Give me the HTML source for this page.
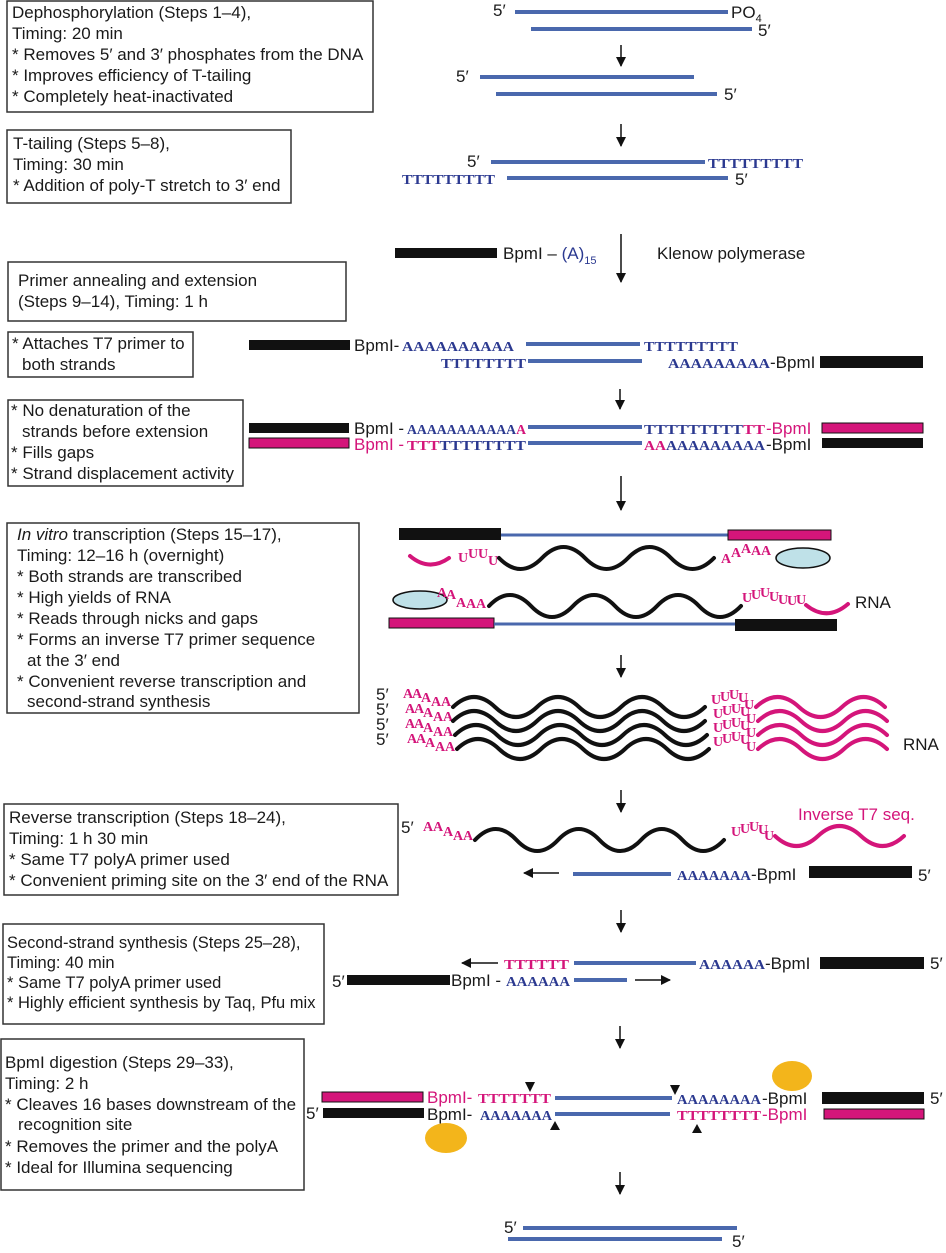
<!DOCTYPE html>
<html><head><meta charset="utf-8"><style>
html,body{margin:0;padding:0;background:#fff;}
svg{display:block;}
.t{font-family:"Liberation Sans",sans-serif;font-size:17px;fill:#1a1a1a;}
.s{font-family:"Liberation Serif",serif;font-weight:bold;font-size:14px;}
.n{fill:#2b3990;} .m{fill:#d4157a;} .k{fill:#1a1a1a;}
.box{fill:none;stroke:#333;stroke-width:1.5;}
.bl{stroke:#4a68ad;stroke-width:4;}
.w{fill:none;stroke:#111;stroke-width:4;stroke-linecap:round;}
.wm{fill:none;stroke:#d4157a;stroke-width:4;stroke-linecap:round;}
</style></head><body>
<svg width="946" height="1253" viewBox="0 0 946 1253" xmlns="http://www.w3.org/2000/svg">
<defs><marker id="ah" markerWidth="10" markerHeight="10" refX="9" refY="5" orient="auto" markerUnits="userSpaceOnUse"><path d="M0,0 L10,5 L0,10 z" fill="#111"/></marker></defs>

<!-- Boxes -->
<rect class="box" x="7" y="1" width="366" height="111"/>
<text class="t" x="12" y="18">Dephosphorylation (Steps 1–4),</text>
<text class="t" x="12" y="39">Timing: 20 min</text>
<text class="t" x="12" y="60">* Removes 5′ and 3′ phosphates from the DNA</text>
<text class="t" x="12" y="81">* Improves efficiency of T-tailing</text>
<text class="t" x="12" y="102">* Completely heat-inactivated</text>

<rect class="box" x="7" y="130" width="284" height="73"/>
<text class="t" x="13" y="149">T-tailing (Steps 5–8),</text>
<text class="t" x="13" y="170">Timing: 30 min</text>
<text class="t" x="13" y="191">* Addition of poly-T stretch to 3′ end</text>

<rect class="box" x="8" y="262" width="338" height="59"/>
<text class="t" x="18" y="286">Primer annealing and extension</text>
<text class="t" x="18" y="307">(Steps 9–14), Timing: 1 h</text>

<rect class="box" x="8" y="332" width="185" height="45"/>
<text class="t" x="12" y="349">* Attaches T7 primer to</text>
<text class="t" x="22" y="370">both strands</text>

<rect class="box" x="8" y="400" width="235" height="86"/>
<text class="t" x="11" y="416">* No denaturation of the</text>
<text class="t" x="22" y="437">strands before extension</text>
<text class="t" x="11" y="458">* Fills gaps</text>
<text class="t" x="11" y="479">* Strand displacement activity</text>

<rect class="box" x="7" y="523" width="352" height="190"/>
<text class="t" x="17" y="540"><tspan font-style="italic">In vitro</tspan> transcription (Steps 15–17),</text>
<text class="t" x="17" y="561">Timing: 12–16 h (overnight)</text>
<text class="t" x="17" y="582">* Both strands are transcribed</text>
<text class="t" x="17" y="603">* High yields of RNA</text>
<text class="t" x="17" y="624">* Reads through nicks and gaps</text>
<text class="t" x="17" y="645">* Forms an inverse T7 primer sequence</text>
<text class="t" x="27" y="666">at the 3′ end</text>
<text class="t" x="17" y="687">* Convenient reverse transcription and</text>
<text class="t" x="27" y="707">second-strand synthesis</text>

<rect class="box" x="4" y="804" width="394" height="91"/>
<text class="t" x="9" y="823">Reverse transcription (Steps 18–24),</text>
<text class="t" x="9" y="844">Timing: 1 h 30 min</text>
<text class="t" x="9" y="865">* Same T7 polyA primer used</text>
<text class="t" x="9" y="886">* Convenient priming site on the 3′ end of the RNA</text>

<rect class="box" x="3" y="924" width="321" height="100"/>
<text class="t" x="7" y="948" style="font-size:16.5px">Second-strand synthesis (Steps 25–28),</text>
<text class="t" x="7" y="968" style="font-size:16.5px">Timing: 40 min</text>
<text class="t" x="7" y="988" style="font-size:16.5px">* Same T7 polyA primer used</text>
<text class="t" x="7" y="1008" style="font-size:16.5px">* Highly efficient synthesis by Taq, Pfu mix</text>

<rect class="box" x="1" y="1039" width="303" height="151"/>
<text class="t" x="5" y="1068">BpmI digestion (Steps 29–33),</text>
<text class="t" x="5" y="1089">Timing: 2 h</text>
<text class="t" x="5" y="1110">* Cleaves 16 bases downstream of the</text>
<text class="t" x="18" y="1130">recognition site</text>
<text class="t" x="5" y="1152">* Removes the primer and the polyA</text>
<text class="t" x="5" y="1173">* Ideal for Illumina sequencing</text>

<!-- arrows -->
<g stroke="#111" stroke-width="1.5" marker-end="url(#ah)">
<line x1="621" y1="45" x2="621" y2="66"/>
<line x1="621" y1="124" x2="621" y2="146"/>
<line x1="621" y1="234" x2="621" y2="282"/>
<line x1="620" y1="389" x2="620" y2="409"/>
<line x1="621" y1="476" x2="621" y2="510"/>
<line x1="621" y1="655" x2="621" y2="677"/>
<line x1="621" y1="790" x2="621" y2="812"/>
<line x1="621" y1="910" x2="621" y2="932"/>
<line x1="620" y1="1026" x2="620" y2="1048"/>
<line x1="620" y1="1172" x2="620" y2="1194"/>
</g>

<!-- section 1 -->
<text class="t" x="493" y="16">5′</text>
<line class="bl" x1="515" y1="12" x2="728" y2="12"/>
<text class="t" x="731" y="18">PO<tspan font-size="11" dy="4">4</tspan></text>
<line class="bl" x1="531" y1="29" x2="752" y2="29"/>
<text class="t" x="758" y="36">5′</text>
<text class="t" x="456" y="82">5′</text>
<line class="bl" x1="480" y1="77" x2="694" y2="77"/>
<line class="bl" x1="496" y1="94" x2="717" y2="94"/>
<text class="t" x="724" y="100">5′</text>

<!-- section 2 -->
<text class="t" x="467" y="167">5′</text>
<line class="bl" x1="491" y1="162" x2="705" y2="162"/>
<text class="s n" x="708" y="168" textLength="95" lengthAdjust="spacingAndGlyphs">TTTTTTTTT</text>
<text class="s n" x="402" y="184" textLength="93" lengthAdjust="spacingAndGlyphs">TTTTTTTTT</text>
<line class="bl" x1="507" y1="178" x2="728" y2="178"/>
<text class="t" x="735" y="185">5′</text>

<!-- section 3 -->
<rect x="395" y="248" width="102" height="10" fill="#111"/>
<text class="t" x="503" y="259">BpmI – <tspan fill="#2b3990">(A)</tspan><tspan fill="#2b3990" font-size="11" dy="5">15</tspan></text>
<text class="t" x="657" y="259">Klenow polymerase</text>

<!-- section 4 -->
<rect x="249" y="340" width="101" height="10" fill="#111"/>
<text class="t" x="354" y="351">BpmI-</text>
<text class="s n" x="402" y="351" textLength="112" lengthAdjust="spacingAndGlyphs">AAAAAAAAAA</text>
<line class="bl" x1="526" y1="344" x2="640" y2="344"/>
<text class="s n" x="644" y="351" textLength="94" lengthAdjust="spacingAndGlyphs">TTTTTTTTT</text>
<text class="s n" x="441" y="368" textLength="85" lengthAdjust="spacingAndGlyphs">TTTTTTTT</text>
<line class="bl" x1="528" y1="361" x2="642" y2="361"/>
<text class="s n" x="668" y="368" textLength="102" lengthAdjust="spacingAndGlyphs">AAAAAAAAA</text>
<text class="t" x="770" y="368">-BpmI</text>
<rect x="820" y="356" width="103" height="12" fill="#111"/>

<!-- section 5 -->
<rect x="249" y="423" width="100" height="10" fill="#111"/>
<text class="t" x="354" y="434">BpmI -</text>
<text class="s" x="407" y="434" textLength="119" lengthAdjust="spacingAndGlyphs"><tspan class="n">AAAAAAAAAAA</tspan><tspan class="m">A</tspan></text>
<line class="bl" x1="528" y1="427" x2="642" y2="427"/>
<text class="s" x="644" y="434" textLength="121" lengthAdjust="spacingAndGlyphs"><tspan class="n">TTTTTTTTT</tspan><tspan class="m">TT</tspan></text>
<text class="t m" x="766" y="434">-BpmI</text>
<rect x="822" y="423" width="101" height="10" fill="#d4157a" stroke="#111" stroke-width="1"/>
<rect x="249" y="438" width="100" height="10" fill="#d4157a" stroke="#111" stroke-width="1"/>
<text class="t m" x="354" y="450">BpmI -</text>
<text class="s" x="407" y="450" textLength="119" lengthAdjust="spacingAndGlyphs"><tspan class="m">TTT</tspan><tspan class="n">TTTTTTTT</tspan></text>
<line class="bl" x1="528" y1="443" x2="642" y2="443"/>
<text class="s" x="644" y="450" textLength="121" lengthAdjust="spacingAndGlyphs"><tspan class="m">AA</tspan><tspan class="n">AAAAAAAAA</tspan></text>
<text class="t" x="766" y="450">-BpmI</text>
<rect x="822" y="438" width="101" height="10" fill="#111"/>

<!-- section 6 -->
<rect x="399" y="528" width="102" height="12" fill="#111"/>
<line x1="501" y1="535" x2="728" y2="535" stroke="#4a68ad" stroke-width="3"/>
<rect x="728" y="530" width="103" height="10" fill="#d4157a" stroke="#111" stroke-width="1"/>
<path class="wm" d="M410 556 Q429 572 449 558"/>
<text class="s m" x="458 468 478 488" y="562 558 558 565">UUUU</text>
<path class="w" d="M499 558 q21.5 22 43 0 t43 0 t43 0 t43 0 t43 0"/>
<text class="s m" x="721 731 741 751 761" y="563 557 553 555 555">AAAAA</text>
<ellipse cx="803" cy="558" rx="27" ry="10" fill="#bfe1e8" stroke="#111" stroke-width="1.5"/>

<ellipse cx="420" cy="600" rx="27" ry="9" fill="#bfe1e8" stroke="#111" stroke-width="1.5"/>
<text class="s m" x="437 446 456 466 476" y="597 599 607 608 608">AAAAA</text>
<path class="w" d="M489 606 q21 -22 42 0 t42 0 t42 0 t42 0 t42 0 t42 0"/>
<text class="s m" x="742 751 760 769 778 787 796" y="602 599 597 601 604 605 604">UUUUUUU</text>
<path class="wm" d="M806 605 Q827 622 848 604"/>
<text class="t" x="855" y="608">RNA</text>
<rect x="389" y="618" width="105" height="10" fill="#d4157a" stroke="#111" stroke-width="1"/>
<line x1="494" y1="624" x2="735" y2="624" stroke="#4a68ad" stroke-width="3"/>
<rect x="735" y="619" width="102" height="12" fill="#111"/>

<!-- section 7 : RNA population -->
<g>
<text class="t" x="376" y="700">5′</text>
<text class="t" x="376" y="715">5′</text>
<text class="t" x="376" y="730">5′</text>
<text class="t" x="376" y="745">5′</text>
</g>
<g class="s m">
<text x="403 412 421 431 441" y="698 698 702 706 706">AAAAA</text>
<text x="405 414 423 433 443" y="713 713 717 721 721">AAAAA</text>
<text x="405 414 423 433 443" y="728 728 732 736 736">AAAAA</text>
<text x="407 416 425 435 445" y="743 743 747 751 751">AAAAA</text>
<text x="711 720 729 738 744" y="704 701 699 702 709">UUUUU</text>
<text x="713 722 731 740 746" y="718 715 713 716 723">UUUUU</text>
<text x="713 722 731 740 746" y="732 729 727 730 737">UUUUU</text>
<text x="713 722 731 740 746" y="746 743 741 744 751">UUUUU</text>
</g>
<path class="w" d="M453 707 q21 -20 42 0 t42 0 t42 0 t42 0 t42 0 t42 0"/>
<path class="w" d="M453 721 q21 -20 42 0 t42 0 t42 0 t42 0 t42 0 t42 0"/>
<path class="w" d="M455 735 q21 -20 42 0 t42 0 t42 0 t42 0 t42 0 t42 0"/>
<path class="w" d="M457 749 q21 -20 42 0 t42 0 t42 0 t42 0 t42 0 t42 0"/>
<path class="wm" d="M756 707 q21.5 -20 43 0 t43 0 t43 0"/>
<path class="wm" d="M758 721 q21.5 -20 43 0 t43 0 t43 0"/>
<path class="wm" d="M758 735 q21.5 -20 43 0 t43 0 t43 0"/>
<path class="wm" d="M758 749 q21.5 -20 43 0 t43 0 t43 0"/>
<text class="t" x="903" y="750">RNA</text>

<!-- section 8 : reverse transcription -->
<text class="t" x="401" y="833">5′</text>
<text class="s m" x="423 433 443 453 463" y="831 831 836 840 840">AAAAA</text>
<path class="w" d="M475 840 q20.75 -22 41.5 0 t41.5 0 t41.5 0 t41.5 0 t41.5 0 t41.5 0"/>
<text class="s m" x="731 740 749 758 764" y="836 833 831 834 840">UUUUU</text>
<path class="wm" d="M775 836 q21.5 20 43 0 t43 0 t43 0"/>
<text class="t m" x="798" y="820">Inverse T7 seq.</text>
<line x1="559" y1="873" x2="524" y2="873" stroke="#111" stroke-width="1.5" marker-end="url(#ah)"/>
<line class="bl" x1="573" y1="874" x2="671" y2="874"/>
<text class="s n" x="677" y="880" textLength="74" lengthAdjust="spacingAndGlyphs">AAAAAAA</text>
<text class="t" x="751" y="880">-BpmI</text>
<rect x="809" y="866" width="103" height="12" fill="#111"/>
<text class="t" x="918" y="881">5′</text>

<!-- section 9 : second strand -->
<line x1="498" y1="963" x2="462" y2="963" stroke="#111" stroke-width="1.5" marker-end="url(#ah)"/>
<text class="s m" x="504" y="969" textLength="65" lengthAdjust="spacingAndGlyphs">TTTTTT</text>
<line class="bl" x1="574" y1="963" x2="696" y2="963"/>
<text class="s n" x="699" y="969" textLength="66" lengthAdjust="spacingAndGlyphs">AAAAAA</text>
<text class="t" x="765" y="969">-BpmI</text>
<rect x="820" y="957" width="104" height="12" fill="#111"/>
<text class="t" x="930" y="969">5′</text>
<text class="t" x="332" y="987">5′</text>
<rect x="347" y="975" width="103" height="10" fill="#111"/>
<text class="t" x="451" y="986">BpmI -</text>
<text class="s n" x="506" y="986" textLength="64" lengthAdjust="spacingAndGlyphs">AAAAAA</text>
<line class="bl" x1="574" y1="980" x2="627" y2="980"/>
<line x1="635" y1="980" x2="670" y2="980" stroke="#111" stroke-width="1.5" marker-end="url(#ah)"/>

<!-- section 10 : BpmI digestion -->
<rect x="322" y="1092" width="101" height="10" fill="#d4157a" stroke="#111" stroke-width="1"/>
<text class="t m" x="427" y="1103">BpmI-</text>
<text class="s m" x="478" y="1103" textLength="73" lengthAdjust="spacingAndGlyphs">TTTTTTT</text>
<path d="M525 1082 L535 1082 L530 1092 z" fill="#111"/>
<line class="bl" x1="555" y1="1098" x2="672" y2="1098"/>
<path d="M670 1085 L680 1085 L675 1095 z" fill="#111"/>
<text class="s n" x="677" y="1104" textLength="84" lengthAdjust="spacingAndGlyphs">AAAAAAAA</text>
<text class="t" x="762" y="1104">-BpmI</text>
<rect x="822" y="1092" width="102" height="12" fill="#111"/>
<text class="t" x="930" y="1104">5′</text>
<ellipse cx="792" cy="1076" rx="20" ry="15" fill="#f3b51b"/>

<text class="t" x="306" y="1119">5′</text>
<rect x="323" y="1108" width="101" height="10" fill="#111"/>
<text class="t" x="427" y="1120">BpmI-</text>
<text class="s n" x="480" y="1120" textLength="72" lengthAdjust="spacingAndGlyphs">AAAAAAA</text>
<line class="bl" x1="555" y1="1114" x2="670" y2="1114"/>
<path d="M550 1130 L560 1130 L555 1121 z" fill="#111"/>
<text class="s m" x="677" y="1120" textLength="84" lengthAdjust="spacingAndGlyphs">TTTTTTTT</text>
<text class="t m" x="762" y="1120">-BpmI</text>
<path d="M692 1133 L702 1133 L697 1124 z" fill="#111"/>
<rect x="824" y="1109" width="100" height="10" fill="#d4157a" stroke="#111" stroke-width="1"/>
<ellipse cx="446" cy="1138" rx="21" ry="15" fill="#f3b51b"/>

<!-- final -->
<text class="t" x="504" y="1233">5′</text>
<line class="bl" x1="523" y1="1228" x2="737" y2="1228"/>
<line class="bl" x1="508" y1="1239" x2="722" y2="1239"/>
<text class="t" x="732" y="1247">5′</text>
</svg>
</body></html>
